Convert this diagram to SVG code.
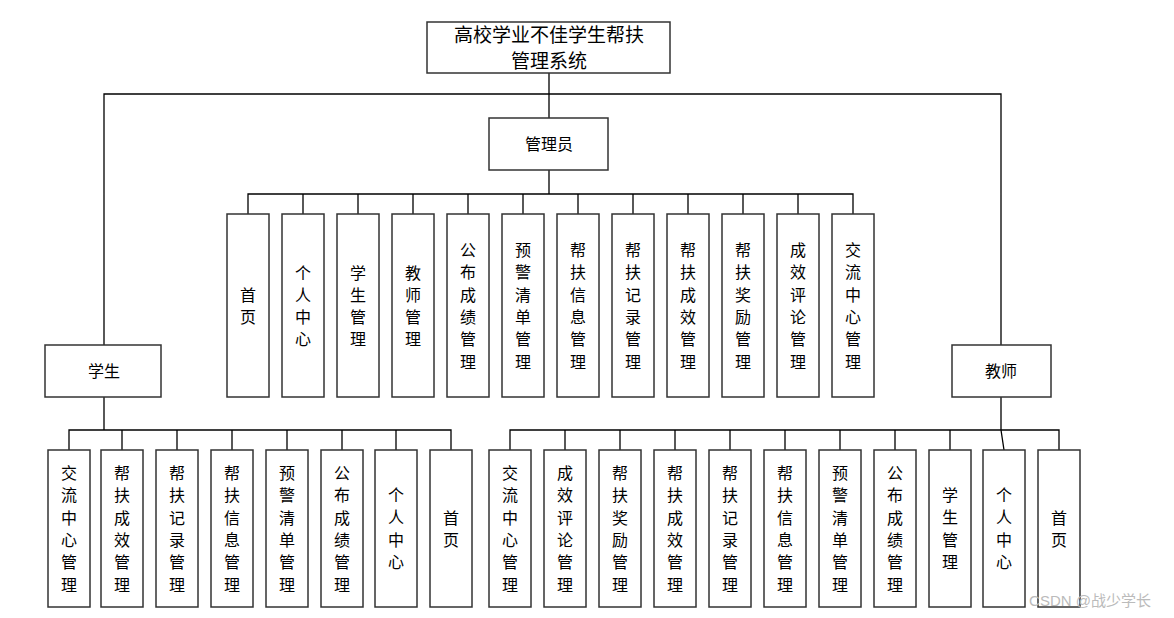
<svg xmlns="http://www.w3.org/2000/svg" width="1174" height="618" viewBox="0 0 1174 618">
<style>
rect{fill:#fff;stroke:#333;stroke-width:1.5}
.c path{fill:none;stroke:#000;stroke-width:1.3}
text{font-family:"Noto Sans CJK SC",sans-serif;font-size:16px;fill:#000;text-anchor:middle}
.t{font-size:19px}
.w{font-size:15px;fill:#bbb;font-family:"Liberation Sans","Noto Sans CJK SC",sans-serif}
</style>
<rect width="1174" height="618" style="fill:#fff;stroke:none"/>
<g class="c">
<path d="M549 73V118M104 345V94H1001V345M549 170V194M248 214V194H853V214M303 194V214M358 194V214M413 194V214M468 194V214M523 194V214M578 194V214M633 194V214M688 194V214M743 194V214M798 194V214"/>
<path d="M104 397V430M69 450V430H451V450M122 430V450M177 430V450M232 430V450M287 430V450M342 430V450M396 430V450"/>
<path d="M1001 397V430L1004 450M510 450V430H1059V450M565 430V450M620 430V450M675 430V450M730 430V450M785 430V450M840 430V450M895 430V450M950 430V450"/>
</g>
<g id="root"><rect x="427" y="22" width="243" height="51"/><text class="t" x="549" y="42">高校学业不佳学生帮扶</text><text class="t" x="549" y="68">管理系统</text></g>
<g id="admin"><rect x="489" y="118" width="119" height="52"/><text x="549" y="150">管理员</text></g>
<g id="student"><rect x="45" y="345" width="116" height="52"/><text x="104" y="377">学生</text></g>
<g id="teacher"><rect x="952" y="345" width="99" height="52"/><text x="1001" y="377">教师</text></g>

<g id="a1"><rect x="227" y="214" width="42" height="183"/><text x="248"><tspan x="248" y="301">首</tspan><tspan x="248" dy="22.3">页</tspan></text></g>
<g id="a2"><rect x="282" y="214" width="42" height="183"/><text x="303"><tspan x="303" y="278.5">个</tspan><tspan x="303" dy="22.3">人</tspan><tspan x="303" dy="22.3">中</tspan><tspan x="303" dy="22.3">心</tspan></text></g>
<g id="a3"><rect x="337" y="214" width="42" height="183"/><text><tspan x="358" y="278.5">学</tspan><tspan x="358" dy="22.3">生</tspan><tspan x="358" dy="22.3">管</tspan><tspan x="358" dy="22.3">理</tspan></text></g>
<g id="a4"><rect x="392" y="214" width="42" height="183"/><text><tspan x="413" y="278.5">教</tspan><tspan x="413" dy="22.3">师</tspan><tspan x="413" dy="22.3">管</tspan><tspan x="413" dy="22.3">理</tspan></text></g>
<g id="a5"><rect x="447" y="214" width="42" height="183"/><text><tspan x="468" y="256">公</tspan><tspan x="468" dy="22.3">布</tspan><tspan x="468" dy="22.3">成</tspan><tspan x="468" dy="22.3">绩</tspan><tspan x="468" dy="22.3">管</tspan><tspan x="468" dy="22.3">理</tspan></text></g>
<g id="a6"><rect x="502" y="214" width="42" height="183"/><text><tspan x="523" y="256">预</tspan><tspan x="523" dy="22.3">警</tspan><tspan x="523" dy="22.3">清</tspan><tspan x="523" dy="22.3">单</tspan><tspan x="523" dy="22.3">管</tspan><tspan x="523" dy="22.3">理</tspan></text></g>
<g id="a7"><rect x="557" y="214" width="42" height="183"/><text><tspan x="578" y="256">帮</tspan><tspan x="578" dy="22.3">扶</tspan><tspan x="578" dy="22.3">信</tspan><tspan x="578" dy="22.3">息</tspan><tspan x="578" dy="22.3">管</tspan><tspan x="578" dy="22.3">理</tspan></text></g>
<g id="a8"><rect x="612" y="214" width="42" height="183"/><text><tspan x="633" y="256">帮</tspan><tspan x="633" dy="22.3">扶</tspan><tspan x="633" dy="22.3">记</tspan><tspan x="633" dy="22.3">录</tspan><tspan x="633" dy="22.3">管</tspan><tspan x="633" dy="22.3">理</tspan></text></g>
<g id="a9"><rect x="667" y="214" width="42" height="183"/><text><tspan x="688" y="256">帮</tspan><tspan x="688" dy="22.3">扶</tspan><tspan x="688" dy="22.3">成</tspan><tspan x="688" dy="22.3">效</tspan><tspan x="688" dy="22.3">管</tspan><tspan x="688" dy="22.3">理</tspan></text></g>
<g id="a10"><rect x="722" y="214" width="42" height="183"/><text><tspan x="743" y="256">帮</tspan><tspan x="743" dy="22.3">扶</tspan><tspan x="743" dy="22.3">奖</tspan><tspan x="743" dy="22.3">励</tspan><tspan x="743" dy="22.3">管</tspan><tspan x="743" dy="22.3">理</tspan></text></g>
<g id="a11"><rect x="777" y="214" width="42" height="183"/><text><tspan x="798" y="256">成</tspan><tspan x="798" dy="22.3">效</tspan><tspan x="798" dy="22.3">评</tspan><tspan x="798" dy="22.3">论</tspan><tspan x="798" dy="22.3">管</tspan><tspan x="798" dy="22.3">理</tspan></text></g>
<g id="a12"><rect x="832" y="214" width="42" height="183"/><text><tspan x="853" y="256">交</tspan><tspan x="853" dy="22.3">流</tspan><tspan x="853" dy="22.3">中</tspan><tspan x="853" dy="22.3">心</tspan><tspan x="853" dy="22.3">管</tspan><tspan x="853" dy="22.3">理</tspan></text></g>

<g id="s1"><rect x="48" y="450" width="42" height="157"/><text><tspan x="69" y="479">交</tspan><tspan x="69" dy="22.3">流</tspan><tspan x="69" dy="22.3">中</tspan><tspan x="69" dy="22.3">心</tspan><tspan x="69" dy="22.3">管</tspan><tspan x="69" dy="22.3">理</tspan></text></g>
<g id="s2"><rect x="101" y="450" width="42" height="157"/><text><tspan x="122" y="479">帮</tspan><tspan x="122" dy="22.3">扶</tspan><tspan x="122" dy="22.3">成</tspan><tspan x="122" dy="22.3">效</tspan><tspan x="122" dy="22.3">管</tspan><tspan x="122" dy="22.3">理</tspan></text></g>
<g id="s3"><rect x="156" y="450" width="42" height="157"/><text><tspan x="177" y="479">帮</tspan><tspan x="177" dy="22.3">扶</tspan><tspan x="177" dy="22.3">记</tspan><tspan x="177" dy="22.3">录</tspan><tspan x="177" dy="22.3">管</tspan><tspan x="177" dy="22.3">理</tspan></text></g>
<g id="s4"><rect x="211" y="450" width="42" height="157"/><text><tspan x="232" y="479">帮</tspan><tspan x="232" dy="22.3">扶</tspan><tspan x="232" dy="22.3">信</tspan><tspan x="232" dy="22.3">息</tspan><tspan x="232" dy="22.3">管</tspan><tspan x="232" dy="22.3">理</tspan></text></g>
<g id="s5"><rect x="266" y="450" width="42" height="157"/><text><tspan x="287" y="479">预</tspan><tspan x="287" dy="22.3">警</tspan><tspan x="287" dy="22.3">清</tspan><tspan x="287" dy="22.3">单</tspan><tspan x="287" dy="22.3">管</tspan><tspan x="287" dy="22.3">理</tspan></text></g>
<g id="s6"><rect x="321" y="450" width="42" height="157"/><text><tspan x="342" y="479">公</tspan><tspan x="342" dy="22.3">布</tspan><tspan x="342" dy="22.3">成</tspan><tspan x="342" dy="22.3">绩</tspan><tspan x="342" dy="22.3">管</tspan><tspan x="342" dy="22.3">理</tspan></text></g>
<g id="s7"><rect x="375" y="450" width="42" height="157"/><text><tspan x="396" y="501">个</tspan><tspan x="396" dy="22.3">人</tspan><tspan x="396" dy="22.3">中</tspan><tspan x="396" dy="22.3">心</tspan></text></g>
<g id="s8"><rect x="430" y="450" width="42" height="157"/><text><tspan x="451" y="524">首</tspan><tspan x="451" dy="22.3">页</tspan></text></g>

<g id="t1"><rect x="489" y="450" width="42" height="157"/><text><tspan x="510" y="479">交</tspan><tspan x="510" dy="22.3">流</tspan><tspan x="510" dy="22.3">中</tspan><tspan x="510" dy="22.3">心</tspan><tspan x="510" dy="22.3">管</tspan><tspan x="510" dy="22.3">理</tspan></text></g>
<g id="t2"><rect x="544" y="450" width="42" height="157"/><text><tspan x="565" y="479">成</tspan><tspan x="565" dy="22.3">效</tspan><tspan x="565" dy="22.3">评</tspan><tspan x="565" dy="22.3">论</tspan><tspan x="565" dy="22.3">管</tspan><tspan x="565" dy="22.3">理</tspan></text></g>
<g id="t3"><rect x="599" y="450" width="42" height="157"/><text><tspan x="620" y="479">帮</tspan><tspan x="620" dy="22.3">扶</tspan><tspan x="620" dy="22.3">奖</tspan><tspan x="620" dy="22.3">励</tspan><tspan x="620" dy="22.3">管</tspan><tspan x="620" dy="22.3">理</tspan></text></g>
<g id="t4"><rect x="654" y="450" width="42" height="157"/><text><tspan x="675" y="479">帮</tspan><tspan x="675" dy="22.3">扶</tspan><tspan x="675" dy="22.3">成</tspan><tspan x="675" dy="22.3">效</tspan><tspan x="675" dy="22.3">管</tspan><tspan x="675" dy="22.3">理</tspan></text></g>
<g id="t5"><rect x="709" y="450" width="42" height="157"/><text><tspan x="730" y="479">帮</tspan><tspan x="730" dy="22.3">扶</tspan><tspan x="730" dy="22.3">记</tspan><tspan x="730" dy="22.3">录</tspan><tspan x="730" dy="22.3">管</tspan><tspan x="730" dy="22.3">理</tspan></text></g>
<g id="t6"><rect x="764" y="450" width="42" height="157"/><text><tspan x="785" y="479">帮</tspan><tspan x="785" dy="22.3">扶</tspan><tspan x="785" dy="22.3">信</tspan><tspan x="785" dy="22.3">息</tspan><tspan x="785" dy="22.3">管</tspan><tspan x="785" dy="22.3">理</tspan></text></g>
<g id="t7"><rect x="819" y="450" width="42" height="157"/><text><tspan x="840" y="479">预</tspan><tspan x="840" dy="22.3">警</tspan><tspan x="840" dy="22.3">清</tspan><tspan x="840" dy="22.3">单</tspan><tspan x="840" dy="22.3">管</tspan><tspan x="840" dy="22.3">理</tspan></text></g>
<g id="t8"><rect x="874" y="450" width="42" height="157"/><text><tspan x="895" y="479">公</tspan><tspan x="895" dy="22.3">布</tspan><tspan x="895" dy="22.3">成</tspan><tspan x="895" dy="22.3">绩</tspan><tspan x="895" dy="22.3">管</tspan><tspan x="895" dy="22.3">理</tspan></text></g>
<g id="t9"><rect x="929" y="450" width="42" height="157"/><text><tspan x="950" y="501">学</tspan><tspan x="950" dy="22.3">生</tspan><tspan x="950" dy="22.3">管</tspan><tspan x="950" dy="22.3">理</tspan></text></g>
<g id="t10"><rect x="983" y="450" width="42" height="157"/><text><tspan x="1004" y="501">个</tspan><tspan x="1004" dy="22.3">人</tspan><tspan x="1004" dy="22.3">中</tspan><tspan x="1004" dy="22.3">心</tspan></text></g>
<g id="t11"><rect x="1038" y="450" width="42" height="157"/><text><tspan x="1059" y="524">首</tspan><tspan x="1059" dy="22.3">页</tspan></text></g>
<text class="w" x="1090" y="606">CSDN @战少学长</text>
</svg>
